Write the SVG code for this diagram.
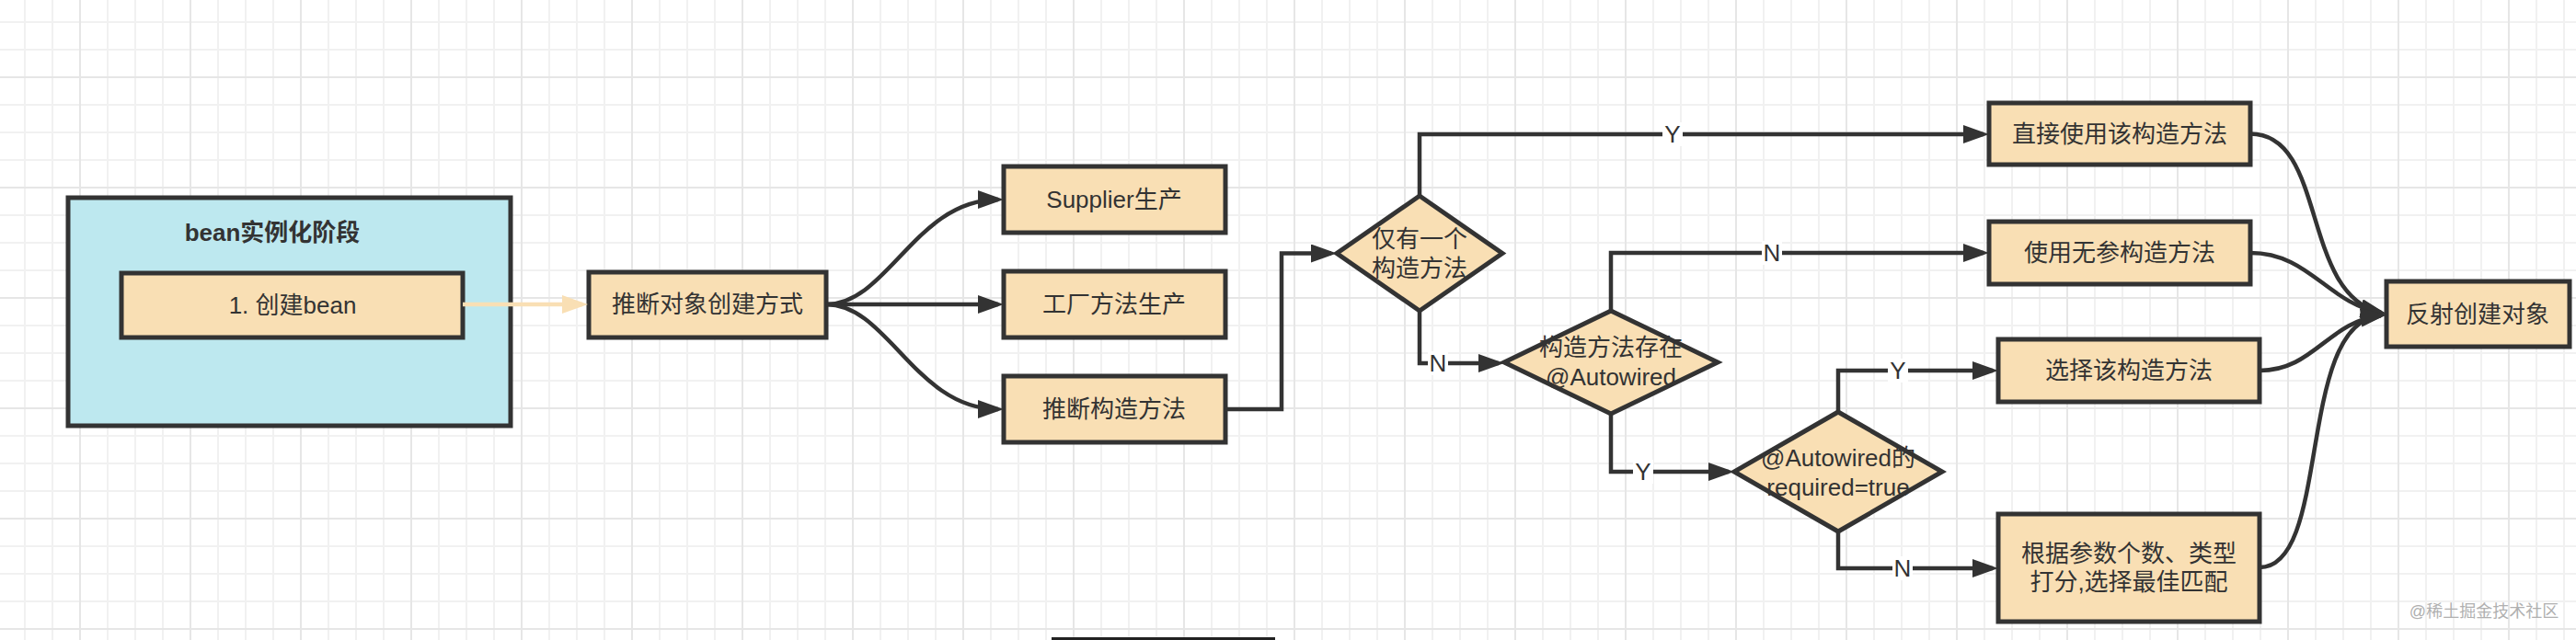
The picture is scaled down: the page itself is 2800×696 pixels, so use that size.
<svg xmlns="http://www.w3.org/2000/svg" width="2800" height="696" viewBox="0 0 2800 696">
<style>
.t{font-family:"Liberation Sans","Noto Sans CJK SC",sans-serif;font-size:26px;fill:#333;text-anchor:middle;dominant-baseline:central}
.title{font-weight:bold}
.box{fill:#F9DFB4;stroke:#333;stroke-width:5}
.stage{fill:#BDE8EF;stroke:#333;stroke-width:5}
.c{fill:none;stroke:#333;stroke-width:4.5}
.lb{fill:#fff}
.wm{font-family:"Liberation Sans","Noto Sans CJK SC",sans-serif;font-size:18px;fill:#b0b0b0;text-anchor:middle;dominant-baseline:central}
</style>
<defs>
<pattern id="grid" x="87" y="84" width="120" height="120" patternUnits="userSpaceOnUse">
<rect width="120" height="120" fill="#fff"/>
<rect x="29" y="0" width="2" height="120" fill="#f1f1f1"/>
<rect x="59" y="0" width="2" height="120" fill="#f1f1f1"/>
<rect x="89" y="0" width="2" height="120" fill="#f1f1f1"/>
<rect x="0" y="29" width="120" height="2" fill="#f1f1f1"/>
<rect x="0" y="59" width="120" height="2" fill="#f1f1f1"/>
<rect x="0" y="89" width="120" height="2" fill="#f1f1f1"/>
<rect x="-1" y="0" width="2" height="120" fill="#e6e6e6"/>
<rect x="0" y="-1" width="120" height="2" fill="#e6e6e6"/>
<rect x="119" y="0" width="2" height="120" fill="#e6e6e6"/>
<rect x="0" y="119" width="120" height="2" fill="#e6e6e6"/>
</pattern>
<marker id="ah" viewBox="0 0 28 20" markerWidth="28" markerHeight="20" refX="22" refY="10" orient="auto" markerUnits="userSpaceOnUse">
<path d="M0,0 L28,10 L0,20 z" fill="#333"/>
</marker>
<marker id="ahl" viewBox="0 0 28 20" markerWidth="28" markerHeight="20" refX="22" refY="10" orient="auto" markerUnits="userSpaceOnUse">
<path d="M0,0 L28,10 L0,20 z" fill="#F9DFB4"/>
</marker>
</defs>
<rect width="2800" height="696" fill="url(#grid)"/>

<g id="stage">
<rect class="stage" x="74" y="215" width="481" height="248"/>
<text class="t title" x="296" y="253">bean实例化阶段</text>
</g>
<g id="create-bean">
<rect class="box" x="132" y="297" width="371" height="70"/>
<text class="t" x="318" y="332">1. 创建bean</text>
</g>
<g id="infer-way">
<rect class="box" x="640" y="296" width="258" height="71"/>
<text class="t" x="769" y="331">推断对象创建方式</text>
</g>
<g id="supplier">
<rect class="box" x="1091" y="181" width="241" height="72"/>
<text class="t" x="1211" y="217">Supplier生产</text>
</g>
<g id="factory">
<rect class="box" x="1091" y="295" width="241" height="72"/>
<text class="t" x="1211" y="331">工厂方法生产</text>
</g>
<g id="infer-ctor">
<rect class="box" x="1091" y="409" width="241" height="72"/>
<text class="t" x="1211" y="445">推断构造方法</text>
</g>
<g id="only-one">
<polygon class="box" points="1543,213 1633,275.5 1543,338 1453,275.5"/>
<text class="t" x="1543" y="260">仅有一个</text>
<text class="t" x="1543" y="292">构造方法</text>
</g>
<g id="has-autowired">
<polygon class="box" points="1751,338 1867,394 1751,450 1635,394"/>
<text class="t" x="1751" y="378">构造方法存在</text>
<text class="t" x="1751" y="410">@Autowired</text>
</g>
<g id="required">
<polygon class="box" points="1998,448 2111,513 1998,578 1885,513"/>
<text class="t" x="1998" y="498">@Autowired的</text>
<text class="t" x="1998" y="530">required=true</text>
</g>
<g id="direct">
<rect class="box" x="2162" y="112" width="284" height="67"/>
<text class="t" x="2304" y="145.5">直接使用该构造方法</text>
</g>
<g id="no-arg">
<rect class="box" x="2162" y="241" width="284" height="68"/>
<text class="t" x="2304" y="275">使用无参构造方法</text>
</g>
<g id="choose">
<rect class="box" x="2172" y="369" width="284" height="68"/>
<text class="t" x="2314" y="403">选择该构造方法</text>
</g>
<g id="score">
<rect class="box" x="2172" y="559" width="284" height="117"/>
<text class="t" x="2314" y="602">根据参数个数、类型</text>
<text class="t" x="2314" y="633">打分,选择最佳匹配</text>
</g>
<g id="reflect">
<rect class="box" x="2594" y="306" width="199" height="71"/>
<text class="t" x="2693" y="341.5">反射创建对象</text>
</g>

<g id="connectors">
<path d="M503,331 H633" fill="none" stroke="#F9DFB4" stroke-width="4.5" marker-end="url(#ahl)"/>
<path class="c" d="M898,331 C965,331 995,217 1085,217" marker-end="url(#ah)"/>
<path class="c" d="M898,331 H1085" marker-end="url(#ah)"/>
<path class="c" d="M898,331 C965,331 995,445 1085,445" marker-end="url(#ah)"/>
<path class="c" d="M1332,445 H1393 V275.5 H1447" marker-end="url(#ah)"/>
<path class="c" d="M1543,213 V146 H2156" marker-end="url(#ah)"/>
<path class="c" d="M1543,338 V395 H1629" marker-end="url(#ah)"/>
<path class="c" d="M1751,338 V275 H2156" marker-end="url(#ah)"/>
<path class="c" d="M1751,450 V513 H1879" marker-end="url(#ah)"/>
<path class="c" d="M1998,448 V403 H2166" marker-end="url(#ah)"/>
<path class="c" d="M1998,578 V618 H2166" marker-end="url(#ah)"/>
<path class="c" d="M2446,145.5 C2530,145.5 2500,320 2588,340" marker-end="url(#ah)"/>
<path class="c" d="M2446,275 C2510,275 2530,330 2588,340" marker-end="url(#ah)"/>
<path class="c" d="M2456,403 C2515,403 2530,350 2588,343" marker-end="url(#ah)"/>
<path class="c" d="M2456,617 C2535,617 2495,350 2588,343" marker-end="url(#ah)"/>
<g id="labels">
<rect class="lb" x="1807" y="133" width="22" height="26"/>
<text class="t" x="1818" y="146">Y</text>
<rect class="lb" x="1552" y="382" width="22" height="26"/>
<text class="t" x="1563" y="395">N</text>
<rect class="lb" x="1915" y="262" width="22" height="26"/>
<text class="t" x="1926" y="275">N</text>
<rect class="lb" x="1775" y="500" width="22" height="26"/>
<text class="t" x="1786" y="513">Y</text>
<rect class="lb" x="2052" y="390" width="22" height="26"/>
<text class="t" x="2063" y="403">Y</text>
<rect class="lb" x="2057" y="605" width="22" height="26"/>
<text class="t" x="2068" y="618">N</text>
</g>
</g>
<text class="wm" x="2700" y="665">@稀土掘金技术社区</text>
<rect x="1143" y="693" width="243" height="3" fill="#222"/>
</svg>
